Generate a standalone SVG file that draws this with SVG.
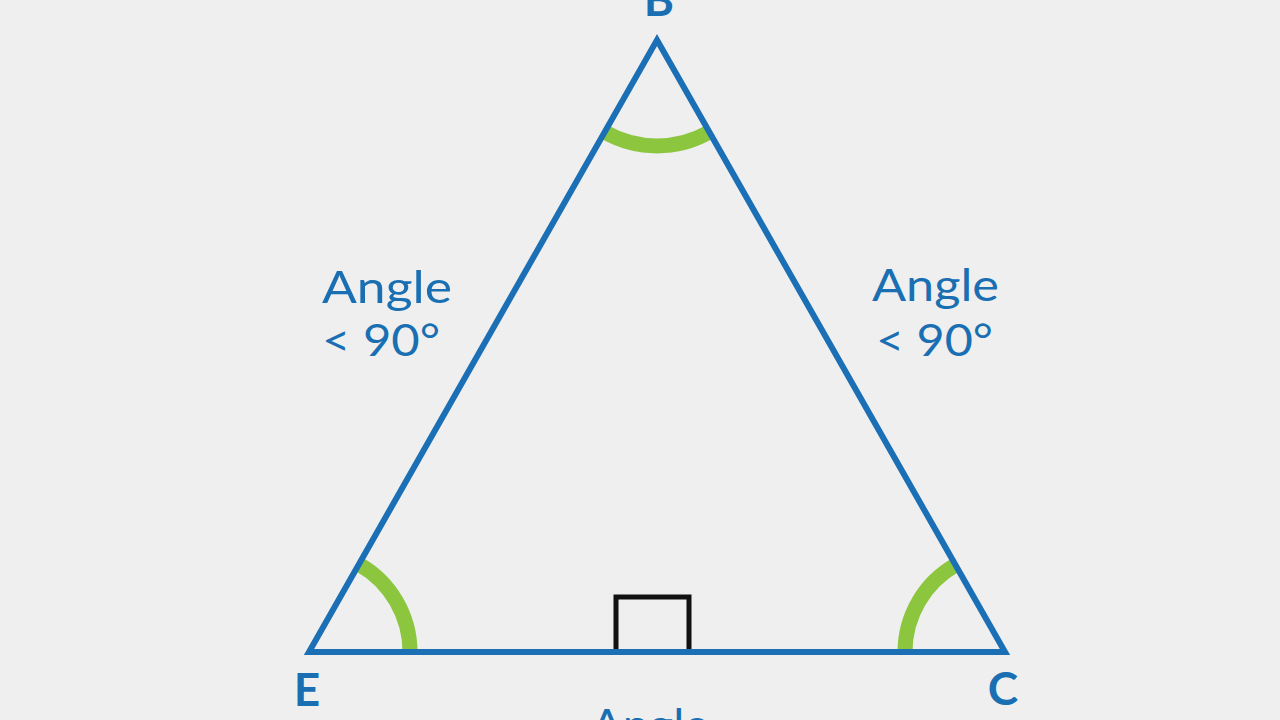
<svg xmlns="http://www.w3.org/2000/svg" width="1280" height="720" viewBox="0 0 1280 720">
  <style>
    .arc { fill: none; stroke: #8cc63f; stroke-width: 15; stroke-linecap: butt; }
    .lbl { font-family: Lato, "Noto Sans", "Liberation Sans", sans-serif; fill: #1a6fb2; font-size: 45px; }
    .vtx { font-family: Lato, "Noto Sans", "Liberation Sans", sans-serif; fill: #1a6fb2; font-size: 46px; font-weight: bold; }
  </style>
  <rect x="0" y="0" width="1280" height="720" fill="#efefef"/>
  <g id="angle-marks">
    <path class="arc" d="M604.6 132.1 A106 106 0 0 0 709.4 132.1"/>
    <path class="arc" d="M358.9 564.2 A101 101 0 0 1 410 652"/>
    <path class="arc" d="M955.6 565.1 A100 100 0 0 0 905 652"/>
  </g>
  <g id="right-angle">
    <polyline points="616,652 616,597 689,597 689,652" fill="none" stroke="#111111" stroke-width="5"/>
  </g>
  <g id="connectors">
    <polygon id="triangle" points="657,40 1005,652 309,652" fill="none" stroke="#1a6fb5" stroke-width="6" stroke-linejoin="miter"/>
  </g>
  <g id="node-B"><text class="vtx" x="659" y="16" text-anchor="middle">B</text></g>
  <g id="node-E"><text class="vtx" x="307" y="706" text-anchor="middle">E</text></g>
  <g id="node-C"><text class="vtx" x="1003" y="705" text-anchor="middle">C</text></g>
  <g id="label-left">
    <text class="lbl" x="322" y="303" textLength="130" lengthAdjust="spacingAndGlyphs">Angle</text>
    <text class="lbl" x="322" y="356" textLength="118" lengthAdjust="spacingAndGlyphs">&lt; 90°</text>
  </g>
  <g id="label-right">
    <text class="lbl" x="872" y="301" textLength="127" lengthAdjust="spacingAndGlyphs">Angle</text>
    <text class="lbl" x="876" y="356" textLength="117" lengthAdjust="spacingAndGlyphs">&lt; 90°</text>
  </g>
  <g id="label-bottom">
    <text class="lbl" x="591" y="741" textLength="118" lengthAdjust="spacingAndGlyphs">Angle</text>
  </g>
</svg>
